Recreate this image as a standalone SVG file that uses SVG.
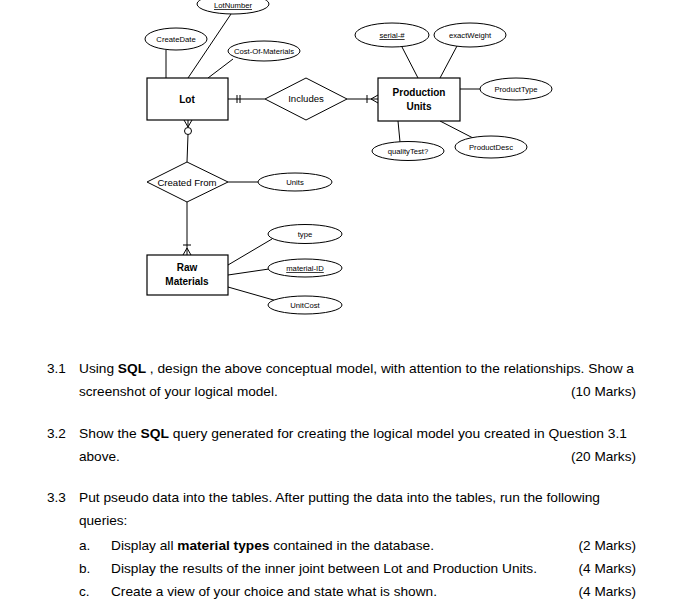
<svg xmlns="http://www.w3.org/2000/svg" width="681" height="601" viewBox="0 0 681 601">
<style>
.ent{fill:#fff;stroke:#000;stroke-width:1.2}
.att{fill:#fff;stroke:#000;stroke-width:1}
.rel{fill:#fff;stroke:#000;stroke-width:1}
.ln{stroke:#000;stroke-width:1;fill:none}
.et{font-family:"Liberation Sans",Arial,sans-serif;font-size:10px;font-weight:bold;text-anchor:middle}
.at{font-family:"Liberation Sans",Arial,sans-serif;font-size:7.7px;text-anchor:middle}
.rt{font-family:"Liberation Sans",Arial,sans-serif;font-size:9.6px;text-anchor:middle}
.q{font-family:"Liberation Sans",Arial,sans-serif;font-size:13.6px;fill:#000}
.r{text-anchor:end}
</style>
<rect width="681" height="601" fill="#fff"/>
<g id="connectors">
<line class="ln" x1="166" y1="50" x2="166" y2="78"/>
<line class="ln" x1="188" y1="78" x2="231" y2="14"/>
<line class="ln" x1="208" y1="78" x2="233" y2="59"/>
<line class="ln" x1="228" y1="99" x2="265" y2="99"/>
<line class="ln" x1="237" y1="95" x2="237" y2="103"/>
<line class="ln" x1="240" y1="95" x2="240" y2="103"/>
<line class="ln" x1="347" y1="99" x2="378" y2="99"/>
<line class="ln" x1="367" y1="95" x2="367" y2="103"/>
<polyline class="ln" points="378,95 371,99 378,103"/>
<line class="ln" x1="402" y1="47" x2="418" y2="78"/>
<line class="ln" x1="457" y1="46" x2="440" y2="78"/>
<line class="ln" x1="460" y1="89" x2="480" y2="89"/>
<line class="ln" x1="398" y1="121" x2="400" y2="142"/>
<line class="ln" x1="440" y1="121" x2="473" y2="138"/>
<polyline class="ln" points="184,120 188,127 192,120"/>
<line class="ln" x1="188" y1="120" x2="188" y2="127"/>
<circle class="ln" cx="188" cy="131" r="3.5"/>
<line class="ln" x1="188" y1="134.5" x2="187" y2="162"/>
<line class="ln" x1="187" y1="202" x2="187" y2="255"/>
<line class="ln" x1="183" y1="245" x2="191" y2="245"/>
<polyline class="ln" points="183,255 187,248 191,255"/>
<line class="ln" x1="228" y1="182" x2="258" y2="182"/>
<line class="ln" x1="228" y1="265" x2="272" y2="239"/>
<line class="ln" x1="228" y1="275" x2="269" y2="269"/>
<line class="ln" x1="228" y1="287" x2="277" y2="301"/>
</g>
<g id="lot">
<rect class="ent" x="147" y="78" width="81" height="42"/>
<text class="et" x="187" y="103">Lot</text>
</g>
<g id="lotnumber">
<ellipse class="att" cx="233" cy="4" rx="36" ry="10"/>
<text class="at" x="233" y="8" text-decoration="underline">LotNumber</text>
</g>
<g id="createdate">
<ellipse class="att" cx="176" cy="39" rx="31" ry="11"/>
<text class="at" x="176" y="42">CreateDate</text>
</g>
<g id="costofmaterials">
<ellipse class="att" cx="264" cy="51" rx="36" ry="10"/>
<text class="at" x="264" y="54">Cost-Of-Materials</text>
</g>
<g id="includes">
<polygon class="rel" points="265,99 306,78 347,99 306,120"/>
<text class="rt" x="306" y="102">Includes</text>
</g>
<g id="productionunits">
<rect class="ent" x="378" y="78" width="82" height="43"/>
<text class="et" x="419" y="96">Production</text>
<text class="et" x="419" y="110">Units</text>
</g>
<g id="serial">
<ellipse class="att" cx="392" cy="35" rx="37" ry="12"/>
<text class="at" x="392" y="38" text-decoration="underline">serial-#</text>
</g>
<g id="exactweight">
<ellipse class="att" cx="470" cy="35" rx="36" ry="12"/>
<text class="at" x="470" y="38">exactWeight</text>
</g>
<g id="producttype">
<ellipse class="att" cx="516" cy="89" rx="36" ry="11"/>
<text class="at" x="516" y="92">ProductType</text>
</g>
<g id="qualitytest">
<ellipse class="att" cx="408" cy="151" rx="36" ry="9.5"/>
<text class="at" x="408" y="154">qualityTest?</text>
</g>
<g id="productdesc">
<ellipse class="att" cx="491" cy="147" rx="36" ry="11"/>
<text class="at" x="491" y="150">ProductDesc</text>
</g>
<g id="createdfrom">
<polygon class="rel" points="147,182 187,162 228,182 187,202"/>
<text class="rt" x="187" y="185.5">Created From</text>
</g>
<g id="units">
<ellipse class="att" cx="295" cy="182" rx="37" ry="9"/>
<text class="at" x="295" y="185">Units</text>
</g>
<g id="rawmaterials">
<rect class="ent" x="147" y="255" width="81" height="40"/>
<text class="et" x="187" y="271">Raw</text>
<text class="et" x="187" y="285">Materials</text>
</g>
<g id="type">
<ellipse class="att" cx="305" cy="234" rx="37" ry="9.5"/>
<text class="at" x="305" y="237">type</text>
</g>
<g id="materialid">
<ellipse class="att" cx="305" cy="268" rx="37" ry="9"/>
<text class="at" x="305" y="271" text-decoration="underline">material-ID</text>
</g>
<g id="unitcost">
<ellipse class="att" cx="305" cy="305" rx="37" ry="9"/>
<text class="at" x="305" y="308">UnitCost</text>
</g>
<g id="questions">
<text class="q" x="47" y="373">3.1</text>
<text class="q" x="79" y="373" textLength="555" lengthAdjust="spacingAndGlyphs">Using <tspan font-weight="bold">SQL</tspan> , design the above conceptual model, with attention to the relationships. Show a</text>
<text class="q" x="79" y="396">screenshot of your logical model.</text>
<text class="q r" x="636" y="396">(10 Marks)</text>
<text class="q" x="47" y="438">3.2</text>
<text class="q" x="79" y="438" textLength="548" lengthAdjust="spacingAndGlyphs">Show the <tspan font-weight="bold">SQL</tspan> query generated for creating the logical model you created in Question 3.1</text>
<text class="q" x="79" y="461">above.</text>
<text class="q r" x="636" y="461">(20 Marks)</text>
<text class="q" x="47" y="502">3.3</text>
<text class="q" x="79" y="502" textLength="521" lengthAdjust="spacingAndGlyphs">Put pseudo data into the tables. After putting the data into the tables, run the following</text>
<text class="q" x="79" y="525">queries:</text>
<text class="q" x="79" y="550">a.</text>
<text class="q" x="111" y="550" textLength="323" lengthAdjust="spacingAndGlyphs">Display all <tspan font-weight="bold">material types</tspan> contained in the database.</text>
<text class="q r" x="636" y="550">(2 Marks)</text>
<text class="q" x="79" y="573">b.</text>
<text class="q" x="111" y="573" textLength="426" lengthAdjust="spacingAndGlyphs">Display the results of the inner joint between Lot and Production Units.</text>
<text class="q r" x="636" y="573">(4 Marks)</text>
<text class="q" x="79" y="596">c.</text>
<text class="q" x="111" y="596" textLength="326" lengthAdjust="spacingAndGlyphs">Create a view of your choice and state what is shown.</text>
<text class="q r" x="636" y="596">(4 Marks)</text>
</g>
</svg>
